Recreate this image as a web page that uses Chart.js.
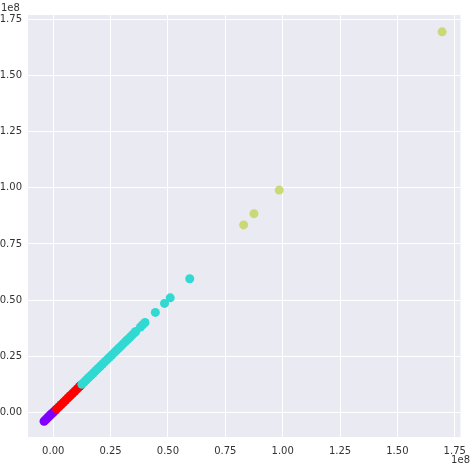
<!DOCTYPE html>
<html lang="en">
  <head>
    <meta charset="UTF-8" />
    <title>Scatter</title>
    <style>
      body { margin: 0; background: white; }
      #wrap { width: 474px; height: 470px; }
    </style>
    <script src="https://cdn.jsdelivr.net/npm/chart.js@4/dist/chart.umd.min.js"></script>
  </head>
  <body>
    <div id="wrap"><canvas id="chart"></canvas></div>
    <script>
      // values in units of 1e8, x == y for every point
      var purpleVals = [-0.04, -0.035, -0.03, -0.025, -0.02, -0.015, -0.01, -0.005, 0.0, 0.005, 0.01];
      var redVals = [0.015, 0.025, 0.035, 0.045, 0.055, 0.065, 0.075, 0.085, 0.095, 0.105, 0.115, 0.12];
      var cyanVals = [0.125, 0.135, 0.145, 0.155, 0.165, 0.175, 0.185, 0.195, 0.205, 0.215, 0.225, 0.235,
        0.245, 0.255, 0.265, 0.275, 0.285, 0.295, 0.305, 0.315, 0.325, 0.335, 0.345, 0.355, 0.36,
        0.38, 0.39, 0.40, 0.445, 0.485, 0.51, 0.595];
      var greenX = [0.83, 0.875, 0.985, 1.695];
      var greenY = [0.835, 0.885, 0.99, 1.695];
      var tickVals = [0, 0.25, 0.5, 0.75, 1.0, 1.25, 1.5, 1.75];

      var pts = (xs, ys) => xs.map((v, i) => ({ x: v, y: ys[i] }));
      var ds = (data, color) => ({
        data: data,
        backgroundColor: color,
        borderWidth: 0,
        pointRadius: 4.5,
        pointHoverRadius: 4.5,
      });

      var bgPlugin = {
        id: "bg",
        beforeDraw(chart) {
          var a = chart.chartArea, c = chart.ctx;
          c.save();
          c.fillStyle = "#eaeaf2";
          c.fillRect(a.left, a.top, a.right - a.left, a.bottom - a.top);
          c.restore();
        },
        afterDraw(chart) {
          var c = chart.ctx;
          c.save();
          c.fillStyle = "#333";
          c.font = "10px 'DejaVu Sans'";
          c.textBaseline = "middle";
          c.textAlign = "left";
          c.fillText("1e8", 1, 8);
          c.textAlign = "right";
          c.fillText("1e8", 470, 460);
          c.restore();
        },
      };

      var tickOpts = {
        color: "#333",
        font: { family: "DejaVu Sans", size: 10 },
        autoSkip: false,
        callback: (v) => v.toFixed(2),
      };

      new Chart(document.getElementById("chart"), {
        type: "scatter",
        data: {
          datasets: [
            ds(pts(cyanVals, cyanVals), "#30d9d2"),
            ds(pts(redVals, redVals), "#ff0000"),
            ds(pts(purpleVals, purpleVals), "#7f00ff"),
            ds(pts(greenX, greenY), "rgba(200,214,104,0.9)"),
          ],
        },
        options: {
          responsive: true,
          maintainAspectRatio: false,
          animation: false,
          layout: { padding: { top: 15, right: 10, left: 0, bottom: 0 } },
          plugins: { legend: { display: false }, tooltip: { enabled: false } },
          scales: {
            x: {
              type: "linear",
              min: -0.11,
              max: 1.775,
              afterBuildTicks: (s) => { s.ticks = tickVals.map((v) => ({ value: v })); },
              afterFit: (s) => { s.height = 33; },
              grid: { color: "#ffffff", lineWidth: 1, drawTicks: false },
              border: { display: false },
              ticks: Object.assign({ padding: 8, maxRotation: 0 }, tickOpts),
            },
            y: {
              type: "linear",
              min: -0.11,
              max: 1.77,
              afterBuildTicks: (s) => { s.ticks = tickVals.map((v) => ({ value: v })); },
              afterFit: (s) => { s.width = 28; },
              grid: { color: "#ffffff", lineWidth: 1, drawTicks: false },
              border: { display: false },
              ticks: Object.assign({ padding: 6 }, tickOpts),
            },
          },
        },
        plugins: [bgPlugin],
      });
    </script>
  </body>
</html>
